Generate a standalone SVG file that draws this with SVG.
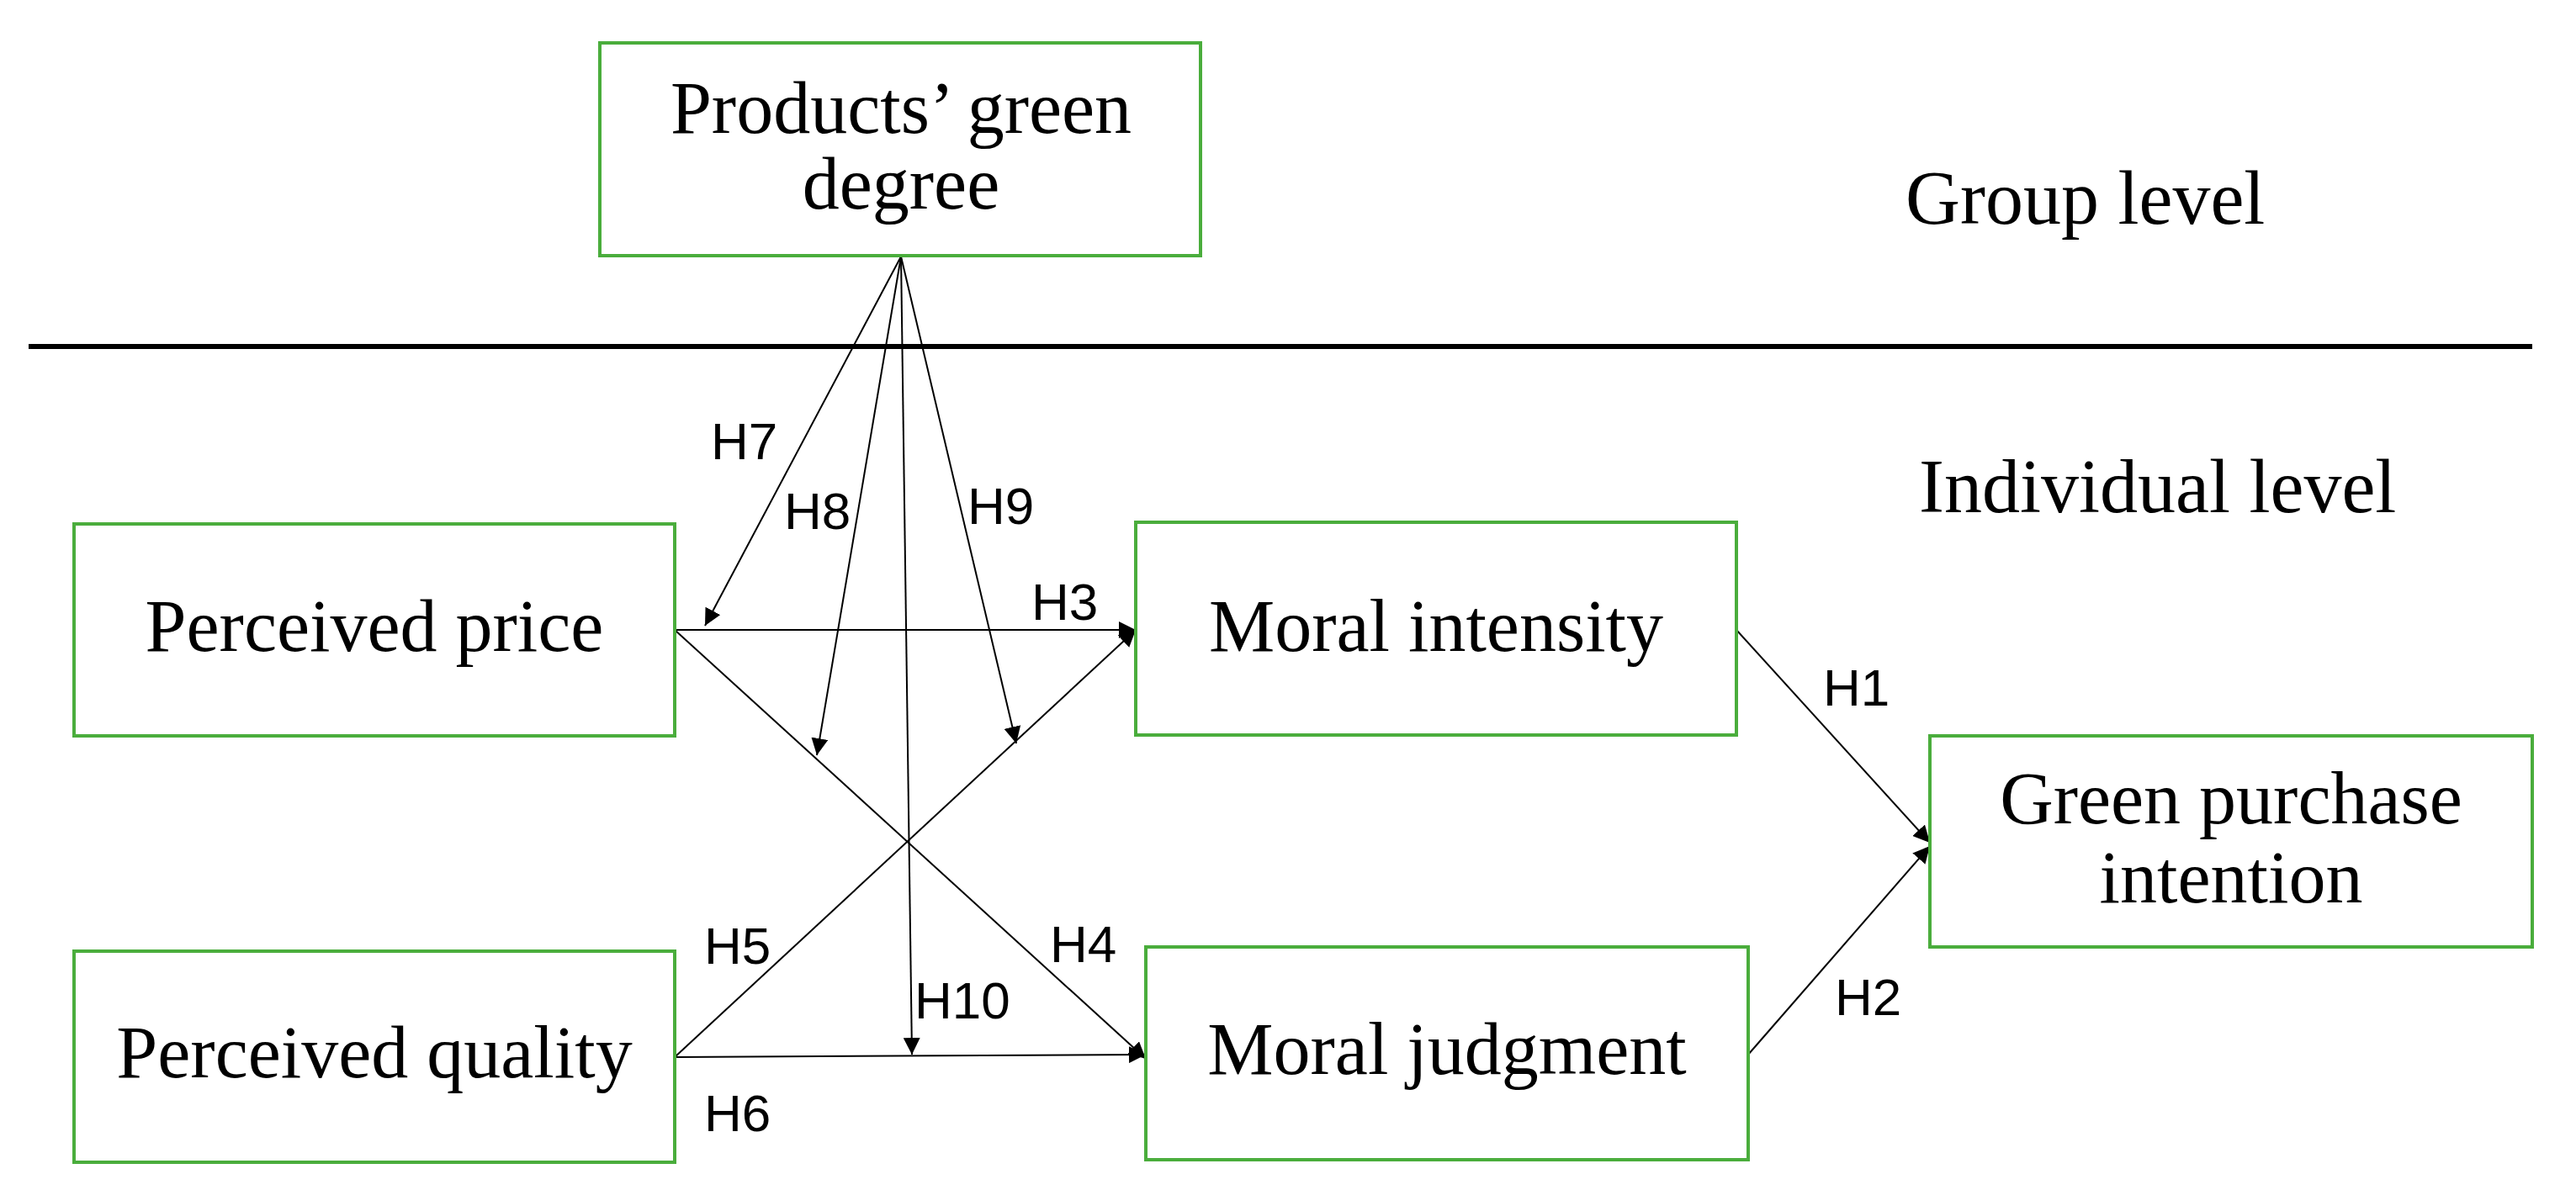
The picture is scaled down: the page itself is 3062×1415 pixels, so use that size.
<svg xmlns="http://www.w3.org/2000/svg" width="3062" height="1415" viewBox="0 0 3062 1415">
<style>
.box{fill:#fff;stroke:#4aad3c;stroke-width:4}
.t{font-family:"Liberation Serif",serif;font-size:88px;fill:#000;text-anchor:middle}
.lv{font-family:"Liberation Serif",serif;font-size:90px;fill:#000}
.l{font-family:"Liberation Sans",sans-serif;font-size:62px;fill:#000}
</style>
<defs><marker id="b" viewBox="0 0 10 10" refX="10" refY="5" markerWidth="20" markerHeight="20" markerUnits="userSpaceOnUse" orient="auto"><path d="M0,0L10,5L0,10z" fill="#000"/></marker></defs>
<rect width="3062" height="1415" fill="#fff"/>
<line x1="34" y1="412" x2="3010" y2="412" stroke="#000" stroke-width="6"/>
<text class="lv" x="2265" y="266">Group level</text>
<text class="lv" x="2281" y="609">Individual level</text>
<g id="connectors">
<g style="stroke:#000;stroke-width:2;fill:none">
<path d="M1071,305L838,744" marker-end="url(#b)"/>
<path d="M1071,305L971,898" marker-end="url(#b)"/>
<path d="M1071,305L1208,884" marker-end="url(#b)"/>
<path d="M1071,305L1084,1254" marker-end="url(#b)"/>
<path d="M802,749L1350,749" marker-end="url(#b)"/>
<path d="M802,749L1362,1259" marker-end="url(#b)"/>
<path d="M802,1257L1350,749" marker-end="url(#b)"/>
<path d="M802,1257L1362,1254" marker-end="url(#b)"/>
<path d="M2064,749L2294,1002" marker-end="url(#b)"/>
<path d="M2078,1254L2294,1006" marker-end="url(#b)"/>
</g>
<text class="l" x="845" y="546">H7</text>
<text class="l" x="932" y="629">H8</text>
<text class="l" x="1150" y="623">H9</text>
<text class="l" x="1226" y="737">H3</text>
<text class="l" x="837" y="1146">H5</text>
<text class="l" x="1248" y="1144">H4</text>
<text class="l" x="1087" y="1211">H10</text>
<text class="l" x="837" y="1345">H6</text>
<text class="l" x="2167" y="839">H1</text>
<text class="l" x="2181" y="1207">H2</text>
</g>
<g id="products"><rect class="box" x="713" y="51" width="714" height="253"/><text class="t" x="1071" y="158">Products’ green</text><text class="t" x="1071" y="248">degree</text></g>
<g id="price"><rect class="box" x="88" y="623" width="714" height="252"/><text class="t" x="445" y="774">Perceived price</text></g>
<g id="quality"><rect class="box" x="88" y="1131" width="714" height="251"/><text class="t" x="445" y="1281">Perceived quality</text></g>
<g id="intensity"><rect class="box" x="1350" y="621" width="714" height="253"/><text class="t" x="1707" y="774">Moral intensity</text></g>
<g id="judgment"><rect class="box" x="1362" y="1126" width="716" height="253"/><text class="t" x="1720" y="1277">Moral judgment</text></g>
<g id="gpi"><rect class="box" x="2294" y="875" width="716" height="251"/><text class="t" x="2652" y="979">Green purchase</text><text class="t" x="2652" y="1073">intention</text></g>
</svg>
